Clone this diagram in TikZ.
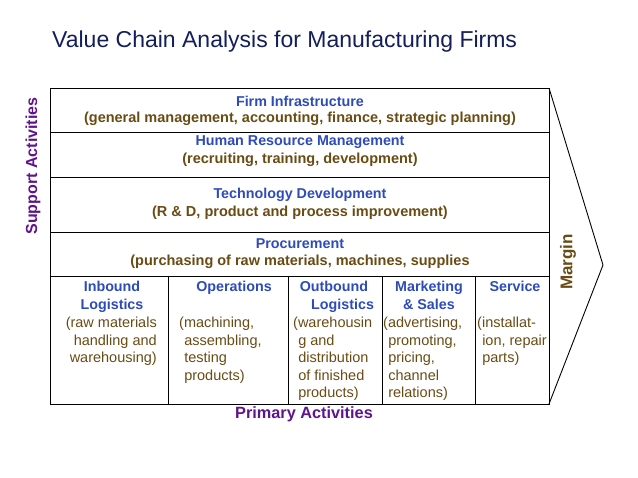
\documentclass[tikz,border=0pt]{standalone}
\usepackage{fontspec}
\setmainfont{Liberation Sans}
\definecolor{tblue}{RGB}{45,75,185}
\definecolor{tbrown}{RGB}{105,75,20}
\definecolor{tpurple}{RGB}{95,20,140}
\definecolor{ttitle}{RGB}{20,30,90}
\begin{document}
\begin{tikzpicture}[x=1pt,y=-1pt,
  hd/.style={font=\bfseries\fontsize{14.3}{17.5}\selectfont,text=tblue,align=center,inner sep=0},
  sub/.style={font=\bfseries\fontsize{14.5}{17}\selectfont,text=tbrown,align=center,inner sep=0},
  col/.style={font=\fontsize{14.5}{17.5}\selectfont,align=left,inner sep=0,anchor=north west},
  ln/.style={draw=black,line width=0.9pt}]
\useasboundingbox (0,0) rectangle (638,478);
\node[font=\fontsize{23}{26}\selectfont,text=ttitle,anchor=west,inner sep=0] (title) at (52,42) {Value Chain Analysis for Manufacturing Firms};
\coordinate (tl) at (50,88); \coordinate (tr) at (549,88);
\coordinate (bl) at (50,404); \coordinate (br) at (549,404);
\coordinate (tip) at (603,265);
\draw[ln] (tl) -- (tr) -- (br) -- (bl) -- cycle;
\draw[ln] (tr) -- (tip) -- (br);
\foreach \y in {132,177,232,276} \draw[ln] (50,\y) -- (549,\y);
\foreach \x in {168,288,382,475} \draw[ln] (\x,276) -- (\x,404);
\node[hd] (fi) at (300,101) {Firm Infrastructure};
\node[sub] (fis) at (300,119) {(general management, accounting, finance, strategic planning)};
\node[hd] (hr) at (300,142) {Human Resource Management};
\node[sub] (hrs) at (300,160) {(recruiting, training, development)};
\node[hd] (td) at (300,195) {Technology Development};
\node[sub] (tds) at (300,213) {(R \& D, product and process improvement)};
\node[hd] (pr) at (300,244) {Procurement};
\node[sub] (prs) at (300,262) {(purchasing of raw materials, machines, supplies};
\node[hd,anchor=north] (il) at (112,281) {Inbound\\Logistics};
\node[hd,anchor=north] (op) at (234,281) {Operations};
\node[hd,anchor=north] (ol) at (334,281) {Outbound\\\hspace*{1.2em}Logistics};
\node[hd,anchor=north] (ms) at (429,281) {Marketing\\\& Sales};
\node[hd,anchor=north] (sv) at (515,281) {Service};
\node[col,text=tbrown,align=right,anchor=north east] (ilt) at (157,317) {(raw materials\\handling and\\warehousing)};
\node[col,text=tbrown] (opt) at (179,317) {(machining,\\\hspace*{0.35em}assembling,\\\hspace*{0.35em}testing\\\hspace*{0.35em}products)};
\node[col,text=tbrown] (olt) at (293,317) {(warehousin\\\hspace*{0.35em}g and\\\hspace*{0.35em}distribution\\\hspace*{0.35em}of finished\\\hspace*{0.35em}products)};
\node[col,text=tbrown] (mst) at (383,317) {(advertising,\\\hspace*{0.35em}promoting,\\\hspace*{0.35em}pricing,\\\hspace*{0.35em}channel\\\hspace*{0.35em}relations)};
\node[col,text=tbrown] (svt) at (477,317) {(installat-\\\hspace*{0.35em}ion, repair\\\hspace*{0.35em}parts)};
\node[font=\bfseries\fontsize{16.3}{18}\selectfont,text=tpurple] (pa) at (304,414) {Primary Activities};
\node[font=\bfseries\fontsize{16}{18}\selectfont,text=tpurple,rotate=90] (sa) at (33,166) {Support Activities};
\node[font=\bfseries\fontsize{17}{18}\selectfont,text=tbrown,rotate=90] (mg) at (568,262) {Margin};
\end{tikzpicture}
\end{document}
